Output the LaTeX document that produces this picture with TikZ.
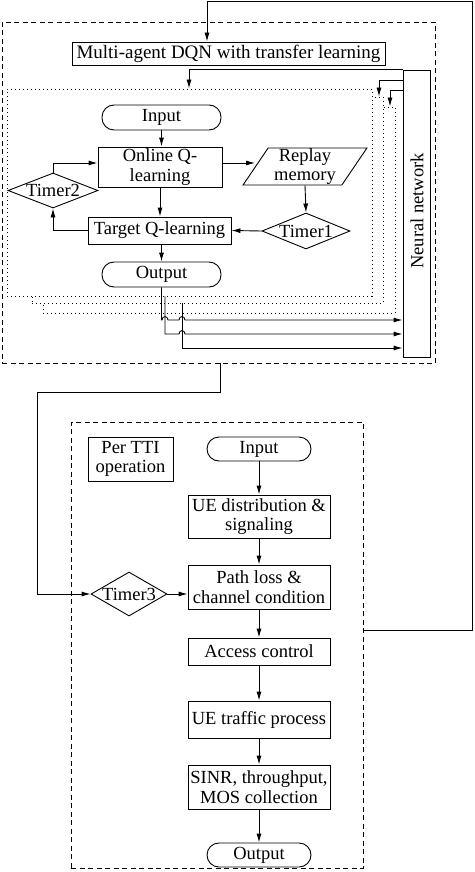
\documentclass[tikz,border=0pt]{standalone}
\usepackage{fontspec}
\setmainfont{Liberation Serif}
\usetikzlibrary{shapes.geometric}
\usetikzlibrary{arrows.meta}
\usetikzlibrary{positioning}

\newcommand{\boxfont}{\fontsize{18.5}{19.5}\selectfont}
\newcommand{\tmr}[1]{\makebox[0pt]{#1}}

\tikzset{
base/.style={draw, line width=0.9pt, inner sep=0pt, align=center, font=\boxfont},
proc/.style={base, rectangle},
term/.style={base, rounded corners=12pt},
io/.style={base, trapezium, trapezium left angle=60, trapezium right angle=120, trapezium stretches=true},
dec/.style={base, diamond, aspect=2},
agent/.style={draw, dash pattern=on 1pt off 3pt, line width=0.9pt, fill=white},
frame/.style={draw, dash pattern=on 5pt off 3.5pt, line width=0.9pt},
>={Latex[length=9pt,width=5pt]}
}

\begin{document}
\begin{tikzpicture}[x=1pt,y=-1pt,line width=0.9pt]
\useasboundingbox (0,0) rectangle (474,872);

\node[frame, minimum width=433, minimum height=341] (frame1) at (218.5,192.5) {};
\node[proc, minimum width=313, minimum height=23, font=\fontsize{19}{20}\selectfont] (multi) at (228.5,53.5) {Multi-agent DQN with transfer learning};

\node[agent, minimum width=352, minimum height=206] (agent3) at (219,210) {};
\node[agent, minimum width=351, minimum height=206] (agent2) at (207.5,200) {};
\node[agent, minimum width=365, minimum height=207] (agent1) at (189.5,192.5) {};

\node[term, minimum width=119, minimum height=25] (in1) at (161.5,117.5) {Input};
\node[proc, minimum width=124, minimum height=40] (online) at (160,167) {Online Q-\\learning};
\node[io, minimum width=124, minimum height=37] (replay) at (305,166.5) {Replay\\memory};
\node[dec, minimum width=90, minimum height=35] (timer2) at (53,190.5) {\tmr{Timer2}};
\node[dec, minimum width=88, minimum height=36] (timer1) at (306,231) {\tmr{Timer1}};
\node[proc, minimum width=143, minimum height=27] (target) at (159.5,230.5) {Target Q-learning};
\node[term, minimum width=119, minimum height=25] (out1) at (161.5,274.5) {Output};

\node[proc, minimum width=27, minimum height=287] (nn) at (416.5,213.5) {};
\node[rotate=90, font=\boxfont] (nnlabel) at (417,211) {Neural network};

\draw [->] (in1.south) -- (in1.south |- online.north);
\draw [->] (timer2.north) |- (online.west |- 0,163);
\draw [->] (online.east |- 0,163) -- (replay.west |- 0,163);
\draw [->] (replay.south) -- (timer1.north);
\draw [->] (timer1.west) -- (target.east);
\draw [->] (target.west) -| (timer2.south);
\draw [->] (online.south) -- (online.south |- target.north);
\draw [->] (out1.north |- target.south) -- (out1.north);

\draw [->] (nn.north west) -| (189,0 |- agent1.north);
\draw [->] (nn.west |- 0,80) -| (379,0 |- agent2.north);
\draw [->] (nn.west |- 0,90) -| (390,0 |- agent3.north);

\draw [->] (out1.south) -- (161.5,320) -- (162,320) .. controls (162,315.5) and (168,315.5) .. (168,320) -- (179,320) .. controls (179,315.5) and (185,315.5) .. (185,320) -- (nn.west |- 0,320);
\draw [->] (165,0 |- agent1.south) -- (165,334) -- (179,334) .. controls (179,329.5) and (185,329.5) .. (185,334) -- (nn.west |- 0,334);
\draw [->] (182,0 |- agent2.south) |- (nn.west |- 0,348);

\node[frame, minimum width=292, minimum height=446] (frame2) at (217,645) {};
\node[proc, minimum width=85, minimum height=44] (pertti) at (130.5,459) {Per TTI\\operation};
\node[term, minimum width=104, minimum height=24] (in2) at (259,449) {Input};
\node[proc, minimum width=142, minimum height=43] (uedist) at (259,516.5) {UE distribution \&\\signaling};
\node[proc, minimum width=142, minimum height=44] (path) at (259,587) {Path loss \&\\channel condition};
\node[dec, minimum width=76, minimum height=44] (timer3) at (129,594) {\tmr{Timer3}};
\node[proc, minimum width=142, minimum height=27] (access) at (259,651.5) {Access control};
\node[proc, minimum width=142, minimum height=37] (traffic) at (259,719.5) {UE traffic process};
\node[proc, minimum width=142, minimum height=44] (sinr) at (259,787) {SINR, throughput,\\MOS collection};
\node[term, minimum width=104, minimum height=24] (out2) at (259,855) {Output};

\foreach \a/\b in {in2/uedist, uedist/path, path/access, access/traffic, traffic/sinr, sinr/out2}
\draw [->] (\a) -- (\b);
\draw [->] (timer3.east) -- (path.west |- timer3.east);

\draw [->] (220,0 |- frame1.south) |- (37,392) |- (timer3.west);
\draw [->] (frame2.east |- 0,630) -- (472.5,630) -- (472.5,1) -- (207,1) -- (207,0 |- multi.north);
\end{tikzpicture}
\end{document}
